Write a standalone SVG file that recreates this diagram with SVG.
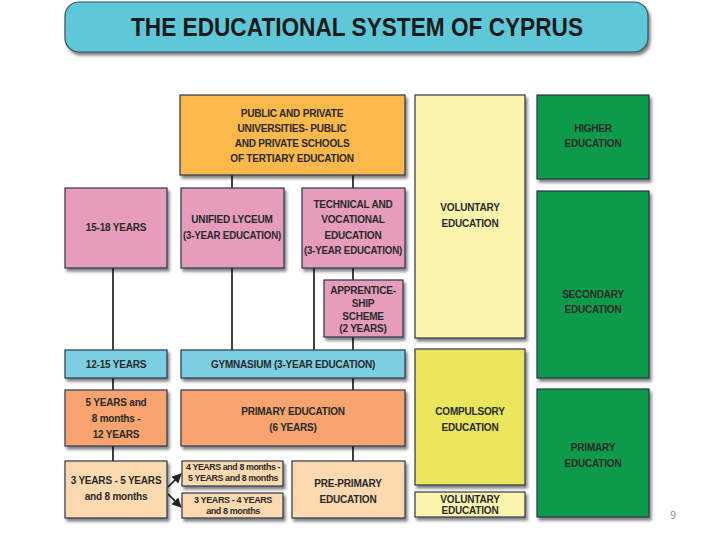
<svg xmlns="http://www.w3.org/2000/svg" width="720" height="540" viewBox="0 0 720 540">
<defs>
<filter id="sh" x="-10%" y="-10%" width="130%" height="140%">
<feGaussianBlur in="SourceAlpha" stdDeviation="1.5"/>
<feOffset dx="2" dy="3" result="b"/>
<feComponentTransfer><feFuncA type="linear" slope="0.5"/></feComponentTransfer>
<feMerge><feMergeNode/><feMergeNode in="SourceGraphic"/></feMerge>
</filter>
<marker id="ah" viewBox="0 0 10 10" refX="9" refY="5" markerWidth="6" markerHeight="6" orient="auto"><path d="M0,0 L10,5 L0,10 z" fill="#222"/></marker>
</defs>
<style>
rect.b{stroke:#2c3550;stroke-width:1.2;filter:url(#sh)}
text{font-family:"Liberation Sans",Arial,sans-serif;font-weight:bold;font-size:10px;letter-spacing:-0.2px;fill:#2a2a2a;text-anchor:middle;dominant-baseline:central}
text.s{font-size:9px;letter-spacing:-0.4px}
.pink{fill:#e69cbb}.org{fill:#fbb84c}.blue{fill:#7ccfe2}.or2{fill:#f7a46e}.peach{fill:#fcd9ae}.pale{fill:#fbf4ad}.yel{fill:#e9e65c}.grn{fill:#0e9a4b}
line.c{stroke:#111;stroke-width:1.6}
</style>
<rect width="720" height="540" fill="#fff"/>
<g id="title">
<rect x="65" y="2" width="583" height="50" rx="14" fill="#5fc8d8" stroke="#3a4a5a" stroke-width="1.2" filter="url(#sh)"/>
<text x="357" y="27" style="font-size:25px;fill:#1a1a1a;letter-spacing:0" textLength="452" lengthAdjust="spacingAndGlyphs">THE EDUCATIONAL SYSTEM OF CYPRUS</text>
</g>
<g id="connectors">
<line class="c" x1="232" y1="175" x2="232" y2="188"/>
<line class="c" x1="353" y1="175" x2="353" y2="188"/>
<line class="c" x1="113" y1="268" x2="113" y2="350"/>
<line class="c" x1="232" y1="268" x2="232" y2="350"/>
<line class="c" x1="314" y1="268" x2="314" y2="350"/>
<line class="c" x1="353" y1="268" x2="353" y2="280"/>
<line class="c" x1="353" y1="337" x2="353" y2="350"/>
<line class="c" x1="113" y1="378" x2="113" y2="390"/>
<line class="c" x1="353" y1="378" x2="353" y2="390"/>
<line class="c" x1="113" y1="446" x2="113" y2="461"/>
<line class="c" x1="353" y1="446" x2="353" y2="461"/>
<line class="c" x1="168" y1="487" x2="181" y2="474" marker-end="url(#ah)"/>
<line class="c" x1="168" y1="494" x2="181" y2="507" marker-end="url(#ah)"/>
</g>
<g id="tertiary"><rect class="b org" x="180" y="95" width="225" height="80"/>
<text x="292" y="113">PUBLIC AND PRIVATE</text><text x="292" y="128">UNIVERSITIES- PUBLIC</text><text x="292" y="143">AND PRIVATE SCHOOLS</text><text x="292" y="158">OF TERTIARY EDUCATION</text></g>
<g id="age15"><rect class="b pink" x="65" y="188" width="102" height="80"/><text x="116" y="227">15-18 YEARS</text></g>
<g id="lyceum"><rect class="b pink" x="181" y="188" width="103" height="80"/><text x="232" y="219">UNIFIED LYCEUM</text><text x="232" y="235" textLength="98" lengthAdjust="spacingAndGlyphs">(3-YEAR EDUCATION)</text></g>
<g id="technical"><rect class="b pink" x="302" y="188" width="103" height="80"/><text x="353" y="204">TECHNICAL AND</text><text x="353" y="219">VOCATIONAL</text><text x="353" y="235">EDUCATION</text><text x="353" y="250" textLength="98" lengthAdjust="spacingAndGlyphs">(3-YEAR EDUCATION)</text></g>
<g id="apprentice"><rect class="b pink" x="324" y="280" width="79" height="57"/><text x="363" y="290">APPRENTICE-</text><text x="363" y="303">SHIP</text><text x="363" y="316">SCHEME</text><text x="363" y="328">(2 YEARS)</text></g>
<g id="voluntary1"><rect class="b pale" x="415" y="95" width="110" height="243"/><text x="470" y="207">VOLUNTARY</text><text x="470" y="223">EDUCATION</text></g>
<g id="higher"><rect class="b grn" x="537" y="95" width="112" height="84"/><text x="593" y="128">HIGHER</text><text x="593" y="143">EDUCATION</text></g>
<g id="secondary"><rect class="b grn" x="537" y="191" width="112" height="187"/><text x="593" y="294">SECONDARY</text><text x="593" y="309">EDUCATION</text></g>
<g id="age12"><rect class="b blue" x="65" y="350" width="102" height="28"/><text x="116" y="364">12-15 YEARS</text></g>
<g id="gymnasium"><rect class="b blue" x="181" y="350" width="224" height="28"/><text x="293" y="364">GYMNASIUM (3-YEAR EDUCATION)</text></g>
<g id="compulsory"><rect class="b yel" x="415" y="349" width="110" height="136"/><text x="470" y="411">COMPULSORY</text><text x="470" y="427">EDUCATION</text></g>
<g id="primarygreen"><rect class="b grn" x="537" y="389" width="112" height="128"/><text x="593" y="447">PRIMARY</text><text x="593" y="463">EDUCATION</text></g>
<g id="age5"><rect class="b or2" x="65" y="390" width="102" height="56"/><text x="116" y="402">5 YEARS and</text><text x="116" y="418">8 months -</text><text x="116" y="434">12 YEARS</text></g>
<g id="primary"><rect class="b or2" x="181" y="390" width="224" height="56"/><text x="293" y="411">PRIMARY EDUCATION</text><text x="293" y="427">(6 YEARS)</text></g>
<g id="age3"><rect class="b peach" x="65" y="461" width="102" height="57"/><text x="116" y="480">3 YEARS - 5 YEARS</text><text x="116" y="496">and 8 months</text></g>
<g id="age4"><rect class="b peach" x="182" y="461" width="101" height="25"/><text class="s" x="233" y="467" textLength="94" lengthAdjust="spacingAndGlyphs">4 YEARS and 8 months -</text><text class="s" x="233" y="478" textLength="90" lengthAdjust="spacingAndGlyphs">5 YEARS and 8 months</text></g>
<g id="age3b"><rect class="b peach" x="182" y="493" width="101" height="25"/><text class="s" x="233" y="500">3 YEARS - 4 YEARS</text><text class="s" x="233" y="511">and 8 months</text></g>
<g id="preprimary"><rect class="b peach" x="292" y="461" width="113" height="57"/><text x="348" y="483">PRE-PRIMARY</text><text x="348" y="499">EDUCATION</text></g>
<g id="voluntary2"><rect class="b pale" x="415" y="492" width="110" height="25"/><text x="470" y="499">VOLUNTARY</text><text x="470" y="510">EDUCATION</text></g>
<text x="673" y="515" style="font-weight:normal;font-size:10px;letter-spacing:0;fill:#888;font-family:'Open Sans',sans-serif">9</text>
</svg>
